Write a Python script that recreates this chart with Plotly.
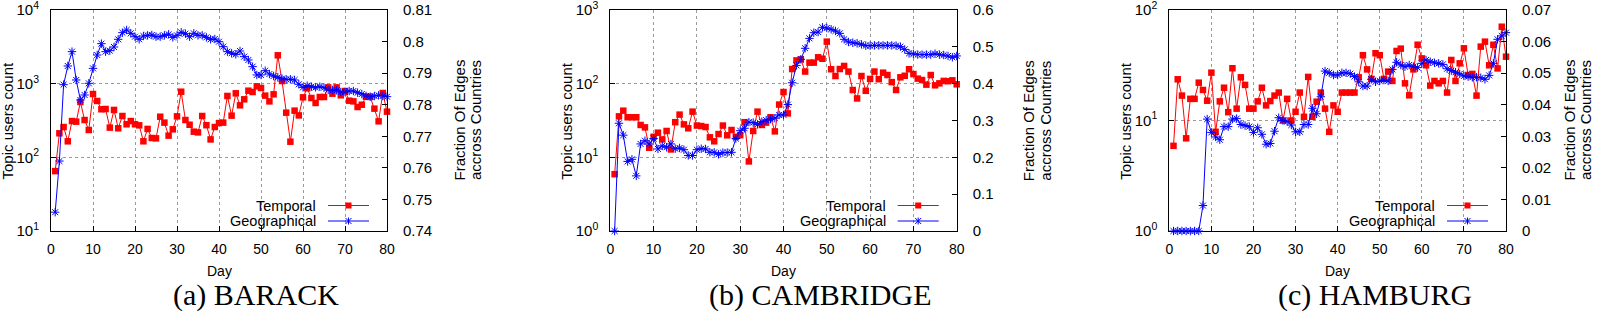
import plotly.graph_objects as go

W, H = 1600, 314
days = list(range(1, 81))

# ---------------- data ----------------
barack_temporal = [65, 212, 258, 165, 311, 305, 564, 321, 235, 724,
                   582, 449, 453, 253, 440, 248, 364, 281, 311, 281,
                   272, 165, 243, 183, 181, 356, 296, 197, 240, 360,
                   778, 321, 277, 223, 218, 364, 273, 175, 258, 292,
                   296, 681, 368, 740, 508, 613, 803, 771, 920, 874,
                   688, 575, 716, 2426, 1086, 404, 163, 430, 371, 652,
                   864, 638, 547, 659, 659, 891, 731, 891, 695, 795,
                   587, 575, 482, 518, 666, 660, 458, 308, 747, 417]
barack_geo = [18, 89, 969, 1738, 2720, 1122, 600, 702, 1011, 1614,
              2451, 3491, 2720, 2806, 3147, 4000, 4925, 5352, 4825, 4344,
              4000, 4436, 4530, 4580, 4344, 4344, 4530, 4677, 4250, 4530,
              4976, 4770, 4344, 4825, 4530, 4530, 4250, 4000, 4040, 3715,
              3180, 2720, 2584, 2500, 2774, 2328, 2096, 1701, 1313, 1313,
              1500, 1352, 1270, 1218, 1169, 1146, 1146, 1122, 980, 891,
              940, 910, 891, 910, 882, 821, 821, 813, 771, 771,
              795, 795, 755, 724, 681, 666, 681, 695, 681, 666]

cambridge_temporal = [5.9, 36, 43, 35, 35, 35, 27.5, 25.5, 13.5, 19,
                      21.6, 17.5, 22.8, 12.8, 30, 38, 28, 24.8, 41.7, 27,
                      26.6, 25.8, 18.7, 16.5, 20.7, 27, 19.9, 23.5, 19, 20,
                      30, 8.8, 22.8, 41.7, 27.5, 29.6, 35, 22.5, 52, 77,
                      39.5, 158, 207, 214, 146, 193, 193, 228, 218, 372,
                      157, 127, 158, 174, 146, 82, 63, 127, 80, 116,
                      146, 115, 141, 131, 105, 82, 122, 128, 157, 135,
                      117, 112, 97, 131, 95, 101, 109, 108, 111, 98]
cambridge_geo = [1, 29, 20, 8.8, 9.4, 5.6, 15.2, 16.8, 15.2, 18,
                 13, 14.3, 13.7, 15.2, 13.1, 13.4, 12.7, 10.6, 10.6, 12.7,
                 13.1, 13, 11.7, 11.7, 11, 11.6, 11.6, 11.7, 18, 23,
                 24.8, 30, 29.6, 28, 30.5, 32, 33, 34, 37.6, 37.6,
                 52, 103, 177, 214, 302, 412, 492, 502, 582, 570,
                 547, 519, 482, 400, 368, 360, 353, 342, 328, 328,
                 331, 331, 331, 331, 331, 328, 318, 292, 258, 253,
                 248, 248, 248, 248, 255, 248, 245, 238, 228, 238]

hamburg_temporal = [5.9, 23.6, 16.8, 6.9, 15.7, 15.7, 22, 18.9, 15.1, 27.1,
                    7.9, 14.9, 19.8, 11.9, 29.7, 12.8, 24.6, 21, 12.8, 12.8,
                    14.9, 19.8, 13.7, 15, 16.8, 17.9, 10, 15.7, 10, 12,
                    17.9, 10.8, 24.8, 10.8, 14.8, 17.9, 12.8, 7.9, 13.7, 12,
                    17.9, 17.9, 17.9, 17.9, 24.6, 39, 29, 23.8, 40.6, 39,
                    23.8, 27.7, 22.8, 42.6, 44.7, 21.7, 16.9, 29, 48.5, 36.5,
                    31.6, 20.7, 22.8, 21.7, 22.8, 17.9, 35.3, 22.8, 32.9, 45,
                    25.8, 26.4, 16.8, 46.6, 51.7, 31.6, 48.5, 29.6, 70.6, 37.8]
hamburg_geo = [1, 1, 1, 1, 1, 1, 1, 1.7, 10.3, 7.8,
               7.1, 6.7, 8.8, 8.8, 10.3, 10.4, 9.2, 9.0, 8.8, 7.8,
               8.6, 7.5, 6.1, 6.2, 8.0, 10.6, 10, 9.8, 9.1, 7.9,
               7.9, 9.2, 9.2, 12.9, 11.5, 16.4, 28, 27, 25.8, 25.8,
               27, 27, 26.5, 25, 22.4, 20.5, 20.5, 23.6, 22.4, 22.8,
               23.2, 22.8, 29, 33.6, 31.8, 30.7, 31.8, 30.7, 30.1, 32.9,
               35.3, 34, 33.3, 32.9, 32.2, 29.4, 28.3, 27.3, 26.4, 25.3,
               25, 24.6, 24.6, 24.4, 23.6, 25.6, 32.9, 54.3, 58.2, 62.4]

x_ticks = [0, 10, 20, 30, 40, 50, 60, 70, 80]

barack_left_vals = [10, 100, 1000, 10000]
barack_left_text = ["10<sup>1</sup>", "10<sup>2</sup>", "10<sup>3</sup>", "10<sup>4</sup>"]
barack_right_vals = [0.74, 0.75, 0.76, 0.77, 0.78, 0.79, 0.8, 0.81]
barack_right_text = ["0.74", "0.75", "0.76", "0.77", "0.78", "0.79", "0.8", "0.81"]

cambridge_left_vals = [1, 10, 100, 1000]
cambridge_left_text = ["10<sup>0</sup>", "10<sup>1</sup>", "10<sup>2</sup>", "10<sup>3</sup>"]
cambridge_right_vals = [0, 0.1, 0.2, 0.3, 0.4, 0.5, 0.6]
cambridge_right_text = ["0", "0.1", "0.2", "0.3", "0.4", "0.5", "0.6"]

hamburg_left_vals = [1, 10, 100]
hamburg_left_text = ["10<sup>0</sup>", "10<sup>1</sup>", "10<sup>2</sup>"]
hamburg_right_vals = [0, 0.01, 0.02, 0.03, 0.04, 0.05, 0.06, 0.07]
hamburg_right_text = ["0", "0.01", "0.02", "0.03", "0.04", "0.05", "0.06", "0.07"]

captions = ["(a) BARACK", "(b) CAMBRIDGE", "(c) HAMBURG"]
series_names = ["Temporal", "Geographical"]
right_title_lines = ["Fraction Of Edges", "accross Countries"]

# ---------------- layout helpers ----------------
def X(p):
    return p / W

def Y(p):
    return 1 - p / H

RED = "#ff0000"
BLUE = "#0000ff"
SANS = "Liberation Sans"
GRID = "#9a9a9a"

panels = [
    dict(t=barack_temporal, g=barack_geo, lr=[1, 4], lv=barack_left_vals, lt=barack_left_text,
         rr=[0.74, 0.81], rv=barack_right_vals, rt=barack_right_text, L=51, R=387),
    dict(t=cambridge_temporal, g=cambridge_geo, lr=[0, 3], lv=cambridge_left_vals, lt=cambridge_left_text,
         rr=[0, 0.6], rv=cambridge_right_vals, rt=cambridge_right_text, L=610.3, R=956.7),
    dict(t=hamburg_temporal, g=hamburg_geo, lr=[0, 2], lv=hamburg_left_vals, lt=hamburg_left_text,
         rr=[0, 0.07], rv=hamburg_right_vals, rt=hamburg_right_text, L=1169.3, R=1506),
]
TOP, BOT = 10, 231

fig = go.Figure()
layout = dict(
    width=W, height=H, margin=dict(l=0, r=0, t=0, b=0, autoexpand=False),
    paper_bgcolor="white", plot_bgcolor="white", showlegend=False,
    font=dict(family=SANS, size=14, color="black"),
)
shapes = []
annotations = []

for i, p in enumerate(panels):
    n = i + 1
    xid = "x" if n == 1 else f"x{n}"
    yl = 2 * n - 1
    yr = 2 * n
    ylid = "y" if yl == 1 else f"y{yl}"
    yrid = f"y{yr}"
    xkey = "xaxis" if n == 1 else f"xaxis{n}"
    ylkey = "yaxis" if yl == 1 else f"yaxis{yl}"
    yrkey = f"yaxis{yr}"

    fig.add_trace(go.Scatter(
        x=days, y=p["t"], xaxis=xid, yaxis=ylid, mode="lines+markers", name=series_names[0],
        line=dict(color=RED, width=1), cliponaxis=False,
        marker=dict(symbol="square", size=6.5, color=RED, line=dict(width=0))))
    fig.add_trace(go.Scatter(
        x=days, y=p["g"], xaxis=xid, yaxis=ylid, mode="lines+markers", name=series_names[1],
        line=dict(color=BLUE, width=1), cliponaxis=False,
        marker=dict(symbol="asterisk-open", size=7, color=BLUE, line=dict(width=1, color=BLUE))))
    fig.add_trace(go.Scatter(x=[None], y=[None], xaxis=xid, yaxis=yrid, showlegend=False,
                             hoverinfo="skip", mode="lines"))

    L, R = p["L"], p["R"]
    layout[xkey] = dict(
        domain=[X(L), X(R)], anchor=ylid, range=[0, 80], tickvals=x_ticks,
        showline=True, linecolor="black", linewidth=1, mirror=True,
        ticks="inside", ticklen=5, tickcolor="black", ticklabelstandoff=5,
        ticklabeloverflow="allow",
        showgrid=True, gridcolor=GRID, griddash="3px,3px", gridwidth=1, zeroline=False,
        tickfont=dict(size=14, family=SANS),
    )
    layout[ylkey] = dict(
        domain=[Y(BOT), Y(TOP)], anchor=xid, type="log", range=p["lr"],
        tickvals=p["lv"], ticktext=p["lt"],
        showline=True, linecolor="black", linewidth=1, mirror=False,
        ticks="inside", ticklen=5, tickcolor="black", ticklabelstandoff=8,
        ticklabeloverflow="allow",
        showgrid=True, gridcolor=GRID, griddash="3px,3px", gridwidth=1, zeroline=False,
        tickfont=dict(size=15, family=SANS),
    )
    layout[yrkey] = dict(
        overlaying=ylid, side="right", anchor=xid, range=p["rr"],
        tickvals=p["rv"], ticktext=p["rt"],
        showline=True, linecolor="black", linewidth=1,
        ticks="inside", ticklen=5, tickcolor="black", ticklabelstandoff=12,
        ticklabeloverflow="allow",
        showgrid=False, zeroline=False,
        tickfont=dict(size=15, family=SANS),
    )

    # legend box (opaque, gnuplot style)
    shapes.append(dict(type="rect", xref="paper", yref="paper", layer="between",
                       x0=X(R - 175), x1=X(R - 6), y0=Y(BOT), y1=Y(197),
                       fillcolor="white", line=dict(width=0)))
    # legend samples
    for k, (yy, col) in enumerate([(205.5, RED), (221, BLUE)]):
        shapes.append(dict(type="line", xref="paper", yref="paper", layer="above",
                           x0=X(R - 59), x1=X(R - 18), y0=Y(yy), y1=Y(yy),
                           line=dict(color=col, width=1)))
        cx = R - 38.5
        if k == 0:
            shapes.append(dict(type="rect", xref="paper", yref="paper", layer="above",
                               x0=X(cx - 3), x1=X(cx + 3), y0=Y(yy + 3), y1=Y(yy - 3),
                               fillcolor=RED, line=dict(width=0)))
        else:
            for dx0, dy0, dx1, dy1 in [(-3, -3, 3, 3), (-3, 3, 3, -3), (0, -3.5, 0, 3.5)]:
                shapes.append(dict(type="line", xref="paper", yref="paper", layer="above",
                                   x0=X(cx + dx0), x1=X(cx + dx1), y0=Y(yy + dy0), y1=Y(yy + dy1),
                                   line=dict(color=col, width=1)))
        annotations.append(dict(xref="paper", yref="paper", x=X(R - 69), y=Y(yy),
                                xanchor="right", yanchor="middle", showarrow=False,
                                text=series_names[k], font=dict(size=14.5, family=SANS)))

    # axis titles
    annotations.append(dict(xref="paper", yref="paper", x=X(L - 44), y=Y(120.5),
                            xanchor="center", yanchor="middle", showarrow=False, textangle=-90,
                            text="Topic users count", font=dict(size=15, family=SANS)))
    title_x = min(R + 72, W - 31)
    for j, line in enumerate(right_title_lines):
        annotations.append(dict(xref="paper", yref="paper", x=X(title_x + 16.5 * j), y=Y(120.5),
                                xanchor="center", yanchor="middle", showarrow=False, textangle=-90,
                                text=line, font=dict(size=15, family=SANS)))
    annotations.append(dict(xref="paper", yref="paper", x=X((L + R) / 2), y=Y(271),
                            xanchor="center", yanchor="middle", showarrow=False,
                            text="Day", font=dict(size=14, family=SANS)))
    annotations.append(dict(xref="paper", yref="paper", x=X((L + R) / 2 + 37), y=Y(295),
                            xanchor="center", yanchor="middle", showarrow=False,
                            text=captions[i], font=dict(size=30, family="Liberation Serif")))

layout["shapes"] = shapes
layout["annotations"] = annotations
fig.update_layout(**layout)
fig.write_html(
    "out.html",
    config={"displayModeBar": False},
    post_script="document.body.style.margin='0';document.body.style.padding='0';"
                "document.body.style.overflow='hidden';",
)
